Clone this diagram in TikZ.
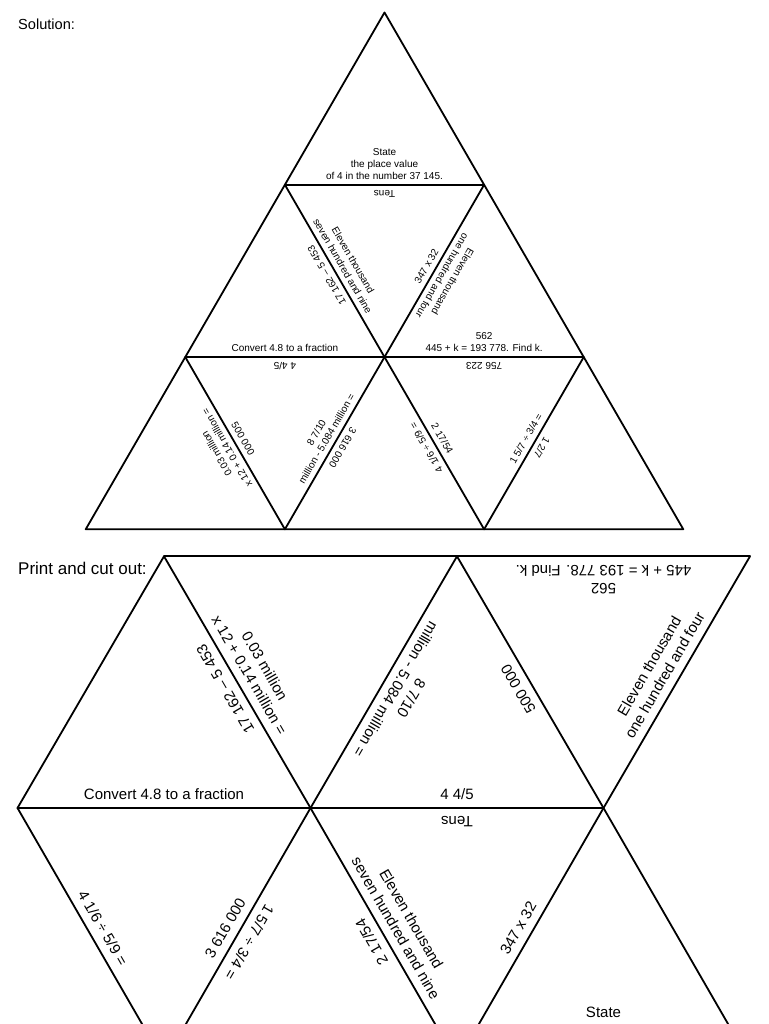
\documentclass[tikz,border=0pt]{standalone}
\usepackage{fontspec}
\setmainfont{Liberation Sans}
\begin{document}
\begin{tikzpicture}[x=1pt,y=1pt,
  ln/.style={line width=1.8pt, line join=round, line cap=round},
  sol/.style={font=\fontsize{10}{12}\selectfont, sloped, allow upside down, anchor=south, inner xsep=0pt, inner ysep=5.5pt, align=center, text depth=0pt},
  cut/.style={font=\fontsize{15}{18}\selectfont, sloped, allow upside down, anchor=south, inner xsep=0pt, inner ysep=8.5pt, align=center, text depth=0pt},
  lbl/.style={anchor=base west, inner sep=0pt}]
\useasboundingbox (0,0) rectangle (768,-1024);
\fill[white] (0,0) rectangle (768,-1024);
% ---------- solution triangle ----------
\coordinate (P00) at (384.5,-12.5);
\coordinate (P10) at (284.9,-184.8);
\coordinate (P11) at (484.1,-184.8);
\coordinate (P20) at (185.3,-357.1);
\coordinate (P21) at (384.5,-357.1);
\coordinate (P22) at (583.7,-357.1);
\coordinate (P30) at (85.7,-529.3);
\coordinate (P31) at (284.9,-529.3);
\coordinate (P32) at (484.1,-529.3);
\coordinate (P33) at (683.3,-529.3);
\draw[ln] (P00) -- (P30) -- (P33) -- cycle;
\draw[ln] (P10) -- (P11);
\draw[ln] (P20) -- (P22);
\draw[ln] (P11) -- (P31);
\draw[ln] (P22) -- (P32);
\draw[ln] (P10) -- (P32);
\draw[ln] (P20) -- (P31);
\node[lbl, font=\fontsize{14.6}{16}\selectfont] (soltitle) at (18,-30) {Solution:};
% T1
\path (P10) -- (P11) node[sol, midway] (s1) {State\\the place value\\of 4 in the number 37 145.};
% T2
\path (P20) -- (P21) node[sol, midway] (s2a) {Convert 4.8 to a fraction};
\path (P21) -- (P10) node[sol, midway] (s2b) {17 162 – 5 453};
% T3
\path (P11) -- (P10) node[sol, midway] (s3a) {Tens};
\path (P10) -- (P21) node[sol, midway] (s3b) {Eleven thousand\\seven hundred and nine};
\path (P21) -- (P11) node[sol, midway] (s3c) {347 x 32};
% T4
\path (P11) -- (P21) node[sol, midway] (s4a) {Eleven thousand\\one hundred and four};
\path (P21) -- (P22) node[sol, midway] (s4b) {562\\445 + k = 193 778. Find k.};
% T5
\path (P31) -- (P20) node[sol, midway] (s5a) {0.03 million\\x 12 + 0.14 million =};
% T6
\path (P21) -- (P20) node[sol, midway] (s6a) {4 4/5};
\path (P20) -- (P31) node[sol, midway] (s6b) {500 000};
\path (P31) -- (P21) node[sol, midway] (s6c) {8 7/10\\million - 5.084 million =};
% T7
\path (P21) -- (P31) node[sol, midway] (s7a) {3 616 000};
\path (P32) -- (P21) node[sol, midway] (s7b) {4 1/6 ÷ 5/9 =};
% T8
\path (P22) -- (P21) node[sol, midway] (s8a) {756 223};
\path (P21) -- (P32) node[sol, midway] (s8b) {2 17/54};
\path (P32) -- (P22) node[sol, midway] (s8c) {1 5/7 ÷ 3/4 =};
% T9
\path (P22) -- (P32) node[sol, midway] (s9a) {1 2/7};
% ---------- cut-out ----------
\node[lbl, font=\fontsize{17}{19}\selectfont] (cuttitle) at (18,-574) {Print and cut out:};
\coordinate (Qa) at (164,-556.3);
\coordinate (Qb) at (457,-556.3);
\coordinate (Qc) at (750,-556.3);
\coordinate (Ma) at (17.5,-808);
\coordinate (Mb) at (310.5,-808);
\coordinate (Mc) at (603.5,-808);
\coordinate (Ba) at (164,-1062);
\coordinate (Bb) at (457,-1062);
\coordinate (Bc) at (750,-1062);
\begin{scope}
\clip (0,0) rectangle (768,-1024);
\draw[ln] (Qa) -- (Qc);
\draw[ln] (Ma) -- (Mc);
\draw[ln] (Ba) -- (Ma) -- (Qa) -- (Mb) -- (Bb);
\draw[ln] (Qb) -- (Mb) -- (Ba);
\draw[ln] (Qb) -- (Mc) -- (Bc);
\draw[ln] (Qc) -- (Mc) -- (Bb);
% C1
\path (Ma) -- (Mb) node[cut, midway] (c1a) {Convert 4.8 to a fraction};
\path (Mb) -- (Qa) node[cut, midway] (c1b) {17 162 – 5 453};
% C2
\path (Qa) -- (Mb) node[cut, midway] (c2a) {0.03 million\\x 12 + 0.14 million =};
% C3
\path (Qb) -- (Mb) node[cut, midway] (c3a) {8 7/10\\million - 5.084 million =};
\path (Mb) -- (Mc) node[cut, midway] (c3b) {4 4/5};
\path (Mc) -- (Qb) node[cut, midway] (c3c) {500 000};
% C4
\path (Qc) -- (Qb) node[cut, midway] (c4a) {562\\445 + k = 193 778. Find k.};
\path (Mc) -- (Qc) node[cut, midway] (c4b) {Eleven thousand\\one hundred and four};
% C5
\path (Ma) -- (Ba) node[cut, midway] (c5a) {4 1/6 ÷ 5/9 =};
\path (Ba) -- (Mb) node[cut, midway] (c5b) {3 616 000};
% C6
\path (Mb) -- (Ba) node[cut, midway] (c6a) {1 5/7 ÷ 3/4 =};
\path (Bb) -- (Mb) node[cut, midway] (c6b) {2 17/54};
% C7
\path (Mc) -- (Mb) node[cut, midway] (c7a) {Tens};
\path (Mb) -- (Bb) node[cut, midway] (c7b) {Eleven thousand\\seven hundred and nine};
\path (Bb) -- (Mc) node[cut, midway] (c7c) {347 x 32};
% C8
\path (Bb) -- (Bc) node[cut, midway] (c8a) {State\\the place value\\of 4 in the number 37 145.};
\end{scope}
\end{tikzpicture}
\end{document}
